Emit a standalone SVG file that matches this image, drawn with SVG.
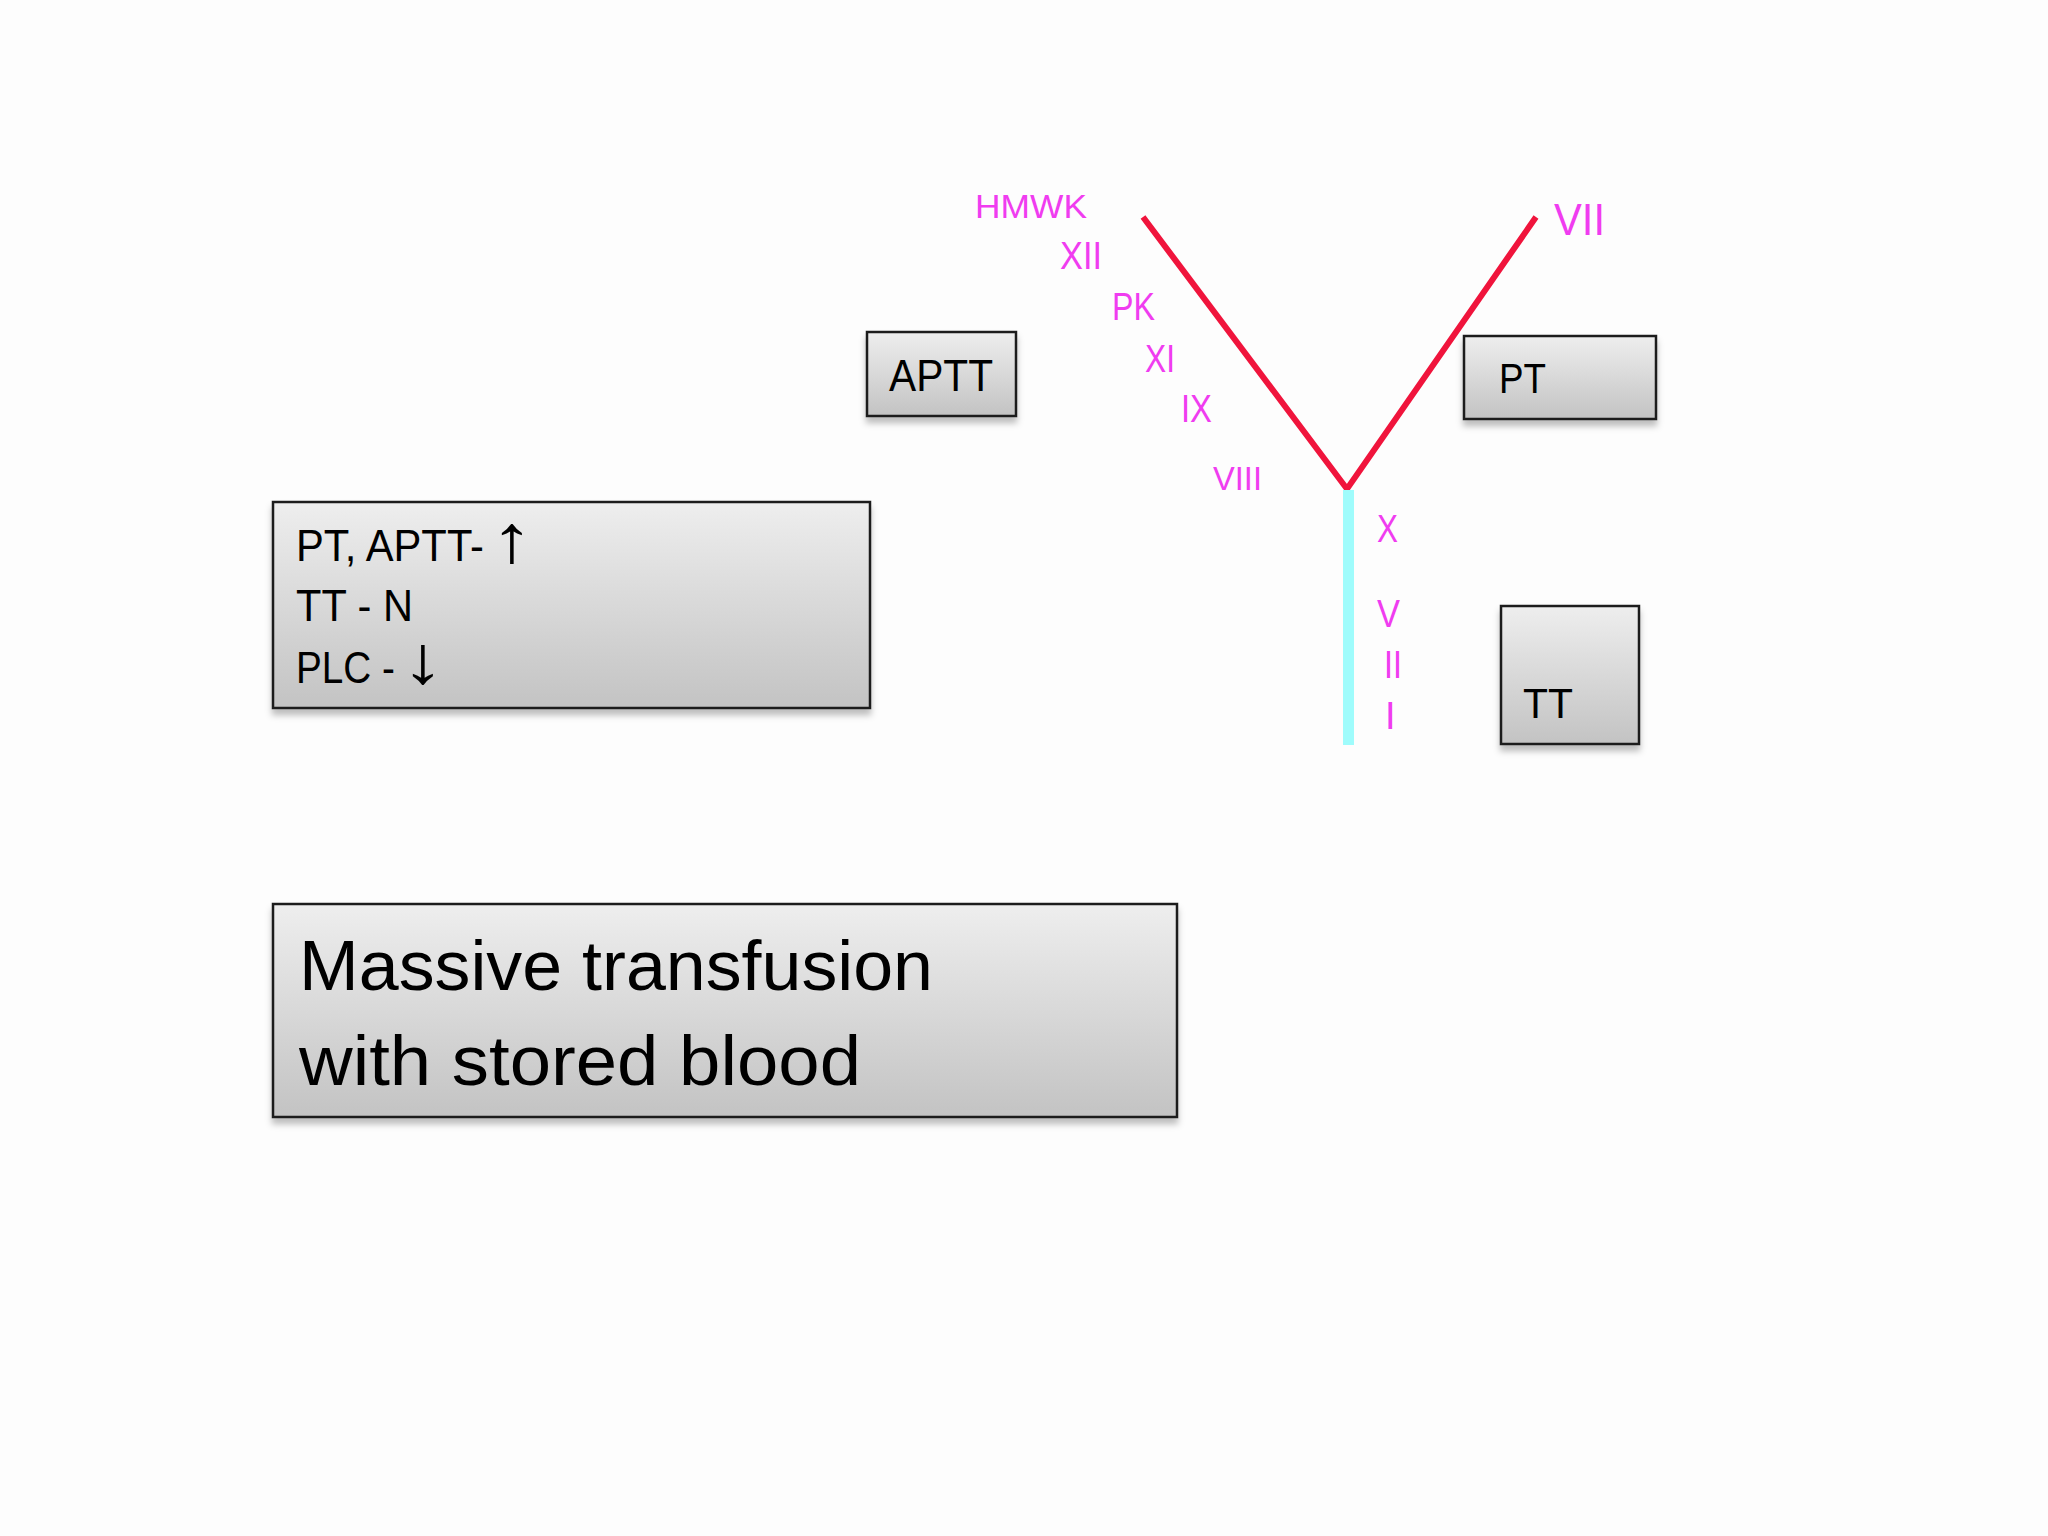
<svg xmlns="http://www.w3.org/2000/svg" width="2048" height="1536" viewBox="0 0 2048 1536">
<defs>
<linearGradient id="boxGrad" x1="0" y1="0" x2="0" y2="1">
<stop offset="0" stop-color="#eeeeee"/>
<stop offset="1" stop-color="#c3c3c3"/>
</linearGradient>
<filter id="shadow" x="-10%" y="-10%" width="120%" height="130%">
<feDropShadow dx="0" dy="6" stdDeviation="3" flood-color="#000000" flood-opacity="0.25"/>
</filter>
</defs>
<style>
.box{fill:url(#boxGrad);stroke:#1a1a1a;stroke-width:2.5;filter:url(#shadow)}
.bt{font-family:"Liberation Sans",Arial,sans-serif;fill:#000000}
.arr{font-family:"Liberation Sans",Arial,sans-serif;fill:#000000;text-anchor:middle}
.lab{font-family:"Liberation Sans",Arial,sans-serif;fill:#f03cf0}
</style>
<rect x="0" y="0" width="2048" height="1536" fill="#fdfdfd"/>
<g id="connectors">
<polyline points="1143,217 1347,489 1536,217" fill="none" stroke="#f0143c" stroke-width="6" stroke-linejoin="miter"/>
<line x1="1348.5" y1="490" x2="1348.5" y2="745" stroke="#9ffcfc" stroke-width="11"/>
</g>
<g id="labels">
<text class="lab" x="975" y="218" font-size="34" textLength="112" lengthAdjust="spacingAndGlyphs">HMWK</text>
<text class="lab" x="1060" y="269" font-size="39" textLength="42" lengthAdjust="spacingAndGlyphs">XII</text>
<text class="lab" x="1112" y="320" font-size="39" textLength="43" lengthAdjust="spacingAndGlyphs">PK</text>
<text class="lab" x="1145" y="372" font-size="39" textLength="30" lengthAdjust="spacingAndGlyphs">XI</text>
<text class="lab" x="1181" y="422" font-size="39" textLength="31" lengthAdjust="spacingAndGlyphs">IX</text>
<text class="lab" x="1213" y="490" font-size="34" textLength="49" lengthAdjust="spacingAndGlyphs">VIII</text>
<text class="lab" x="1554" y="235" font-size="45" textLength="51" lengthAdjust="spacingAndGlyphs">VII</text>
<text class="lab" x="1377" y="542" font-size="38" textLength="21" lengthAdjust="spacingAndGlyphs">X</text>
<text class="lab" x="1377" y="627" font-size="38" textLength="23" lengthAdjust="spacingAndGlyphs">V</text>
<text class="lab" x="1384" y="678" font-size="38" textLength="18" lengthAdjust="spacingAndGlyphs">II</text>
<text class="lab" x="1385" y="729" font-size="38">I</text>
</g>
<g id="aptt">
<rect class="box" x="867" y="332" width="149" height="84"/>
<text class="bt" x="889" y="391" font-size="45" textLength="104" lengthAdjust="spacingAndGlyphs">APTT</text>
</g>
<g id="pt">
<rect class="box" x="1464" y="336" width="192" height="83"/>
<text class="bt" x="1499" y="393" font-size="43" textLength="47" lengthAdjust="spacingAndGlyphs">PT</text>
</g>
<g id="tt">
<rect class="box" x="1501" y="606" width="138" height="138"/>
<text class="bt" x="1523" y="718" font-size="43" textLength="50" lengthAdjust="spacingAndGlyphs">TT</text>
</g>
<g id="findings">
<rect class="box" x="273" y="502" width="597" height="206"/>
<text class="bt" x="296" y="561" font-size="45" textLength="188" lengthAdjust="spacingAndGlyphs">PT, APTT-</text>
<text class="arr" font-size="45" transform="translate(512,562) scale(1.9,1.5)">↑</text>
<text class="bt" x="296" y="621" font-size="45" textLength="117" lengthAdjust="spacingAndGlyphs">TT - N</text>
<text class="bt" x="296" y="683" font-size="45" textLength="99" lengthAdjust="spacingAndGlyphs">PLC -</text>
<text class="arr" font-size="45" transform="translate(423,683) scale(1.9,1.5)">↓</text>
</g>
<g id="title">
<rect class="box" x="273" y="904" width="904" height="213"/>
<text class="bt" x="299" y="990" font-size="71" textLength="634" lengthAdjust="spacingAndGlyphs">Massive transfusion</text>
<text class="bt" x="299" y="1085" font-size="71" textLength="562" lengthAdjust="spacingAndGlyphs">with stored blood</text>
</g>
</svg>
